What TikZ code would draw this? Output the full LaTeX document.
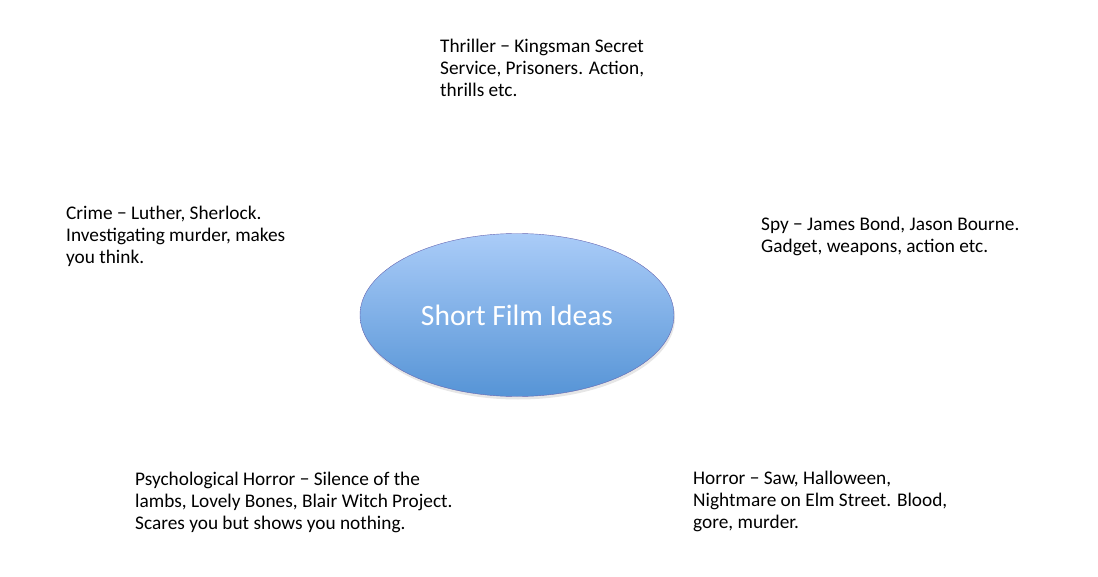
\documentclass[tikz,border=0pt]{standalone}
\usepackage{fontspec}
\setmainfont{Carlito}
\usetikzlibrary{shapes.geometric,shadows}
\begin{document}
\begin{tikzpicture}[x=1pt,y=-1pt,
	idea/.style={anchor=base west,align=left,inner sep=0pt,font=\fontsize{19.3}{22}\selectfont},
	hub/.style={ellipse,draw=blue!50!black!60,top color={rgb,255:red,170;green,204;blue,248},bottom color={rgb,255:red,86;green,148;blue,214},minimum width=314pt,minimum height=163pt,text=white,font=\fontsize{29.5}{34}\selectfont,drop shadow={opacity=0.2,shadow xshift=1pt,shadow yshift=-3pt}}]
		\useasboundingbox (0,0) rectangle (1098,577);
		\node[hub] (film) at (517,315) {Short Film Ideas};
		\node[idea] (thriller) at (440,97) {Thriller − Kingsman Secret\\Service, Prisoners. Action,\\thrills etc.};
		\node[idea] (crime) at (66,264) {Crime − Luther, Sherlock.\\Investigating murder, makes\\you think.};
		\node[idea] (spy) at (761,253) {Spy − James Bond, Jason Bourne.\\Gadget, weapons, action etc.};
		\node[idea] (psych) at (135,529) {Psychological Horror − Silence of the\\lambs, Lovely Bones, Blair Witch Project.\\Scares you but shows you nothing.};
		\node[idea] (horror) at (693,528) {Horror − Saw, Halloween,\\Nightmare on Elm Street. Blood,\\gore, murder.};
	\end{tikzpicture}
\end{document}
